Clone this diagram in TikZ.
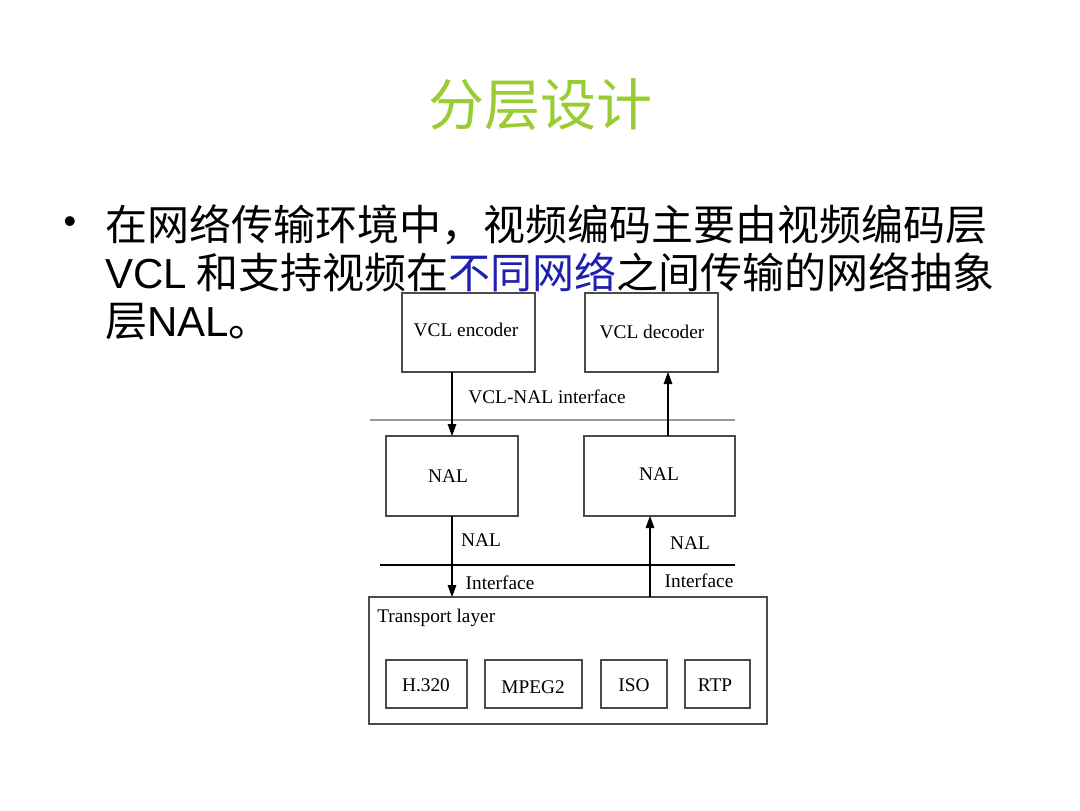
\documentclass[tikz,border=0pt]{standalone}
\usepackage{fontspec}
\setmainfont{Liberation Serif}
\newfontfamily\cjk{Noto Sans CJK SC}
\newfontfamily\lsans{Liberation Sans}
\usetikzlibrary{arrows.meta}
\definecolor{tgreen}{HTML}{99CC33}
\definecolor{tblue}{HTML}{1F1FB0}
\begin{document}
\begin{tikzpicture}[x=0.75pt,y=-0.75pt,
  bx/.style={draw=black!70,line width=0.8pt},
  lab/.style={font=\fontsize{14.5}{16}\selectfont,inner sep=0pt},
  arr/.style={-{Triangle[length=9pt,width=6.5pt]},line width=0.8pt},
  btxt/.style={font=\cjk\fontsize{31.5}{36}\selectfont,anchor=west,inner sep=0pt}]
\useasboundingbox (0,0) rectangle (1080,810);
\fill[white] (0,0) rectangle (1080,810);
\node[font=\cjk\fontsize{42}{48}\selectfont,text=tgreen] (title) at (540,105) {分层设计};
\node[font=\lsans\fontsize{27}{32}\selectfont,inner sep=0pt] (b) at (70,225) {•};
\node[btxt] (l1) at (105,225) {在网络传输环境中，视频编码主要由视频编码层};
\node[btxt] (l2) at (105,272) {{\lsans VCL} 和支持视频在{\color{tblue}不同网络}之间传输的网络抽象};
\node[btxt] (l3) at (105,322) {层{\lsans NAL}。};
% boxes
\draw[bx] (402,293) rectangle (535,372); \node[lab] (enc) at (466,330) {VCL encoder};
\draw[bx] (585,293) rectangle (718,372); \node[lab] (dec) at (652,332) {VCL decoder};
\draw[black!40,line width=1pt] (370,420) -- (735,420);
\draw[bx] (386,436) rectangle (518,516); \node[lab] (nal1) at (448,476) {NAL};
\draw[bx] (584,436) rectangle (735,516); \node[lab] (nal2) at (659,474) {NAL};
\draw[black,line width=0.8pt] (380,565) -- (735,565);
\draw[bx] (369,597) rectangle (767,724); \node[lab,anchor=west] (tl) at (377,618) {Transport layer};
\draw[bx] (386,660) rectangle (467,708); \node[lab] at (426,685) {H.320};
\draw[bx] (485,660) rectangle (582,708); \node[lab] at (533,687) {MPEG2};
\draw[bx] (601,660) rectangle (667,708); \node[lab] at (634,685) {ISO};
\draw[bx] (685,660) rectangle (750,708); \node[lab] at (715,685) {RTP};
\coordinate (a1) at (452,372); \coordinate (a2) at (452,436);
\coordinate (a3) at (452,516); \coordinate (a4) at (452,597);
\coordinate (c1) at (668,436); \coordinate (c2) at (668,372);
\coordinate (c3) at (650,597); \coordinate (c4) at (650,516);
\draw[arr] (a1) -- (a2); \draw[arr] (a3) -- (a4);
\draw[arr] (c1) -- (c2); \draw[arr] (c3) -- (c4);
\node[lab] (t1) at (547,397) {VCL-NAL interface};
\node[lab] (t2) at (481,540) {NAL};
\node[lab] (t3) at (500,583) {Interface};
\node[lab] (t4) at (690,543) {NAL};
\node[lab] (t5) at (699,581) {Interface};
\end{tikzpicture}
\end{document}
